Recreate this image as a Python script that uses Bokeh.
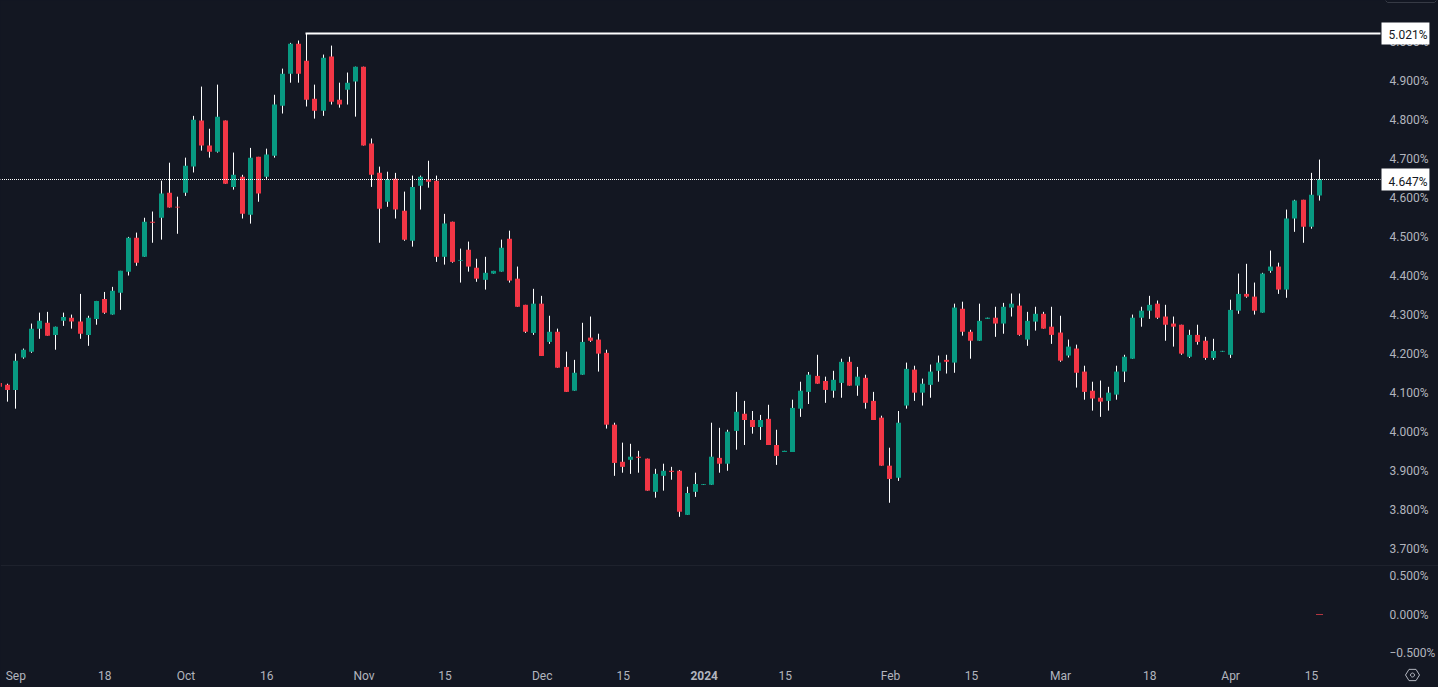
import math
import numpy as np
from bokeh.embed import file_html
from bokeh.layouts import column
from bokeh.models import ColumnDataSource, FixedTicker, Label, PolyAnnotation, PrintfTickFormatter, Range1d
from bokeh.plotting import figure
from bokeh.resources import INLINE

highs = [4.128,4.124,4.201,4.214,4.278,4.306,4.308,4.270,4.306,4.301,
 4.354,4.298,4.336,4.359,4.372,4.413,4.500,4.511,4.549,4.565,
 4.644,4.690,4.603,4.703,4.810,4.885,4.777,4.890,4.798,4.716,
 4.659,4.728,4.705,4.726,4.864,4.931,4.997,5.003,5.021,4.890,
 4.967,4.990,4.895,4.921,4.936,4.936,4.752,4.680,4.667,4.664,
 4.616,4.657,4.657,4.695,4.657,4.559,4.539,4.470,4.488,4.444,
 4.449,4.413,4.493,4.516,4.424,4.326,4.367,4.349,4.298,4.265,
 4.206,4.185,4.280,4.296,4.252,4.211,4.024,3.973,3.970,3.952,
 3.932,3.906,3.919,3.911,3.903,3.860,3.896,3.867,4.024,4.011,
 4.006,4.103,4.080,4.054,4.044,4.070,4.006,3.952,4.083,4.129,
 4.154,4.198,4.142,4.157,4.188,4.193,4.167,4.147,4.103,4.042,
 3.960,4.054,4.178,4.170,4.137,4.173,4.196,4.198,4.329,4.334,
 4.262,4.329,4.293,4.321,4.331,4.355,4.355,4.308,4.321,4.308,
 4.321,4.298,4.237,4.224,4.170,4.129,4.132,4.116,4.170,4.198,
 4.301,4.321,4.349,4.337,4.326,4.296,4.275,4.262,4.275,4.244,
 4.239,4.208,4.339,4.406,4.431,4.383,4.408,4.465,4.434,4.570,
 4.595,4.595,4.664,4.698]
lows = [4.114,4.078,4.060,4.188,4.203,4.239,4.247,4.211,4.272,4.265,
 4.239,4.221,4.275,4.303,4.301,4.313,4.401,4.426,4.449,4.485,
 4.493,4.575,4.508,4.605,4.665,4.721,4.703,4.716,4.636,4.621,
 4.547,4.534,4.590,4.649,4.703,4.816,4.895,4.895,4.834,4.803,
 4.810,4.839,4.831,4.839,4.808,4.734,4.628,4.485,4.577,4.547,
 4.490,4.475,4.570,4.626,4.436,4.429,4.434,4.383,4.411,4.385,
 4.365,4.406,4.411,4.383,4.321,4.254,4.249,4.195,4.226,4.165,
 4.103,4.106,4.147,4.231,4.155,4.009,3.888,3.896,3.893,3.896,
 3.850,3.832,3.850,3.878,3.783,3.788,3.834,3.865,3.865,3.896,
 3.901,3.955,3.967,3.996,3.980,3.967,3.916,3.949,3.949,4.039,
 4.072,4.124,4.075,4.088,4.088,4.119,4.093,4.060,4.031,3.914,
 3.819,3.875,4.060,4.080,4.068,4.088,4.129,4.150,4.152,4.247,
 4.188,4.234,4.290,4.244,4.252,4.296,4.247,4.221,4.260,4.265,
 4.226,4.180,4.191,4.114,4.083,4.055,4.039,4.055,4.083,4.128,
 4.188,4.270,4.290,4.290,4.234,4.219,4.198,4.190,4.224,4.185,
 4.185,4.206,4.190,4.303,4.344,4.301,4.306,4.408,4.354,4.344,
 4.513,4.485,4.521,4.593]
opens = [4.126,4.121,4.108,4.191,4.206,4.265,4.280,4.249,4.285,4.293,
 4.283,4.249,4.290,4.341,4.301,4.357,4.411,4.498,4.449,4.539,
 4.549,4.613,4.577,4.613,4.680,4.798,4.734,4.718,4.798,4.628,
 4.654,4.557,4.705,4.654,4.708,4.836,4.918,4.995,4.951,4.854,
 4.823,4.962,4.851,4.877,4.898,4.936,4.739,4.664,4.590,4.649,
 4.567,4.490,4.631,4.647,4.644,4.449,4.539,4.439,4.467,4.421,
 4.390,4.406,4.411,4.495,4.393,4.326,4.254,4.329,4.231,4.257,
 4.167,4.106,4.147,4.242,4.237,4.203,4.019,3.924,3.929,3.937,
 3.932,3.847,3.888,3.901,3.901,3.788,3.847,3.865,3.865,3.934,
 3.919,4.003,4.047,4.031,4.013,4.034,3.967,3.949,3.949,4.060,
 4.103,4.144,4.131,4.106,4.126,4.180,4.119,4.139,4.080,4.037,
 3.914,3.883,4.068,4.160,4.101,4.121,4.157,4.185,4.178,4.316,
 4.257,4.234,4.290,4.293,4.278,4.319,4.324,4.237,4.283,4.303,
 4.270,4.255,4.196,4.214,4.155,4.106,4.088,4.080,4.096,4.155,
 4.188,4.293,4.311,4.329,4.296,4.278,4.275,4.193,4.249,4.234,
 4.190,4.206,4.198,4.311,4.354,4.347,4.306,4.413,4.424,4.365,
 4.547,4.595,4.526,4.606]
closes = [4.116,4.108,4.183,4.211,4.265,4.285,4.247,4.270,4.295,4.283,
 4.252,4.293,4.336,4.306,4.362,4.413,4.498,4.434,4.539,4.536,
 4.611,4.575,4.575,4.682,4.800,4.734,4.718,4.808,4.636,4.659,
 4.559,4.703,4.611,4.711,4.839,4.918,4.995,4.918,4.851,4.823,
 4.959,4.846,4.839,4.895,4.936,4.734,4.659,4.572,4.647,4.570,
 4.493,4.628,4.654,4.641,4.449,4.534,4.436,4.441,4.424,4.393,
 4.408,4.413,4.472,4.388,4.321,4.257,4.329,4.195,4.257,4.165,
 4.103,4.152,4.231,4.234,4.201,4.019,3.921,3.911,3.937,3.934,
 3.850,3.893,3.901,3.898,3.796,3.844,3.867,3.867,3.937,3.919,
 4.001,4.052,4.031,4.013,4.031,3.967,3.939,3.952,4.062,4.106,
 4.147,4.124,4.108,4.134,4.180,4.119,4.142,4.075,4.031,3.914,
 3.880,4.024,4.162,4.101,4.124,4.155,4.178,4.180,4.319,4.257,
 4.234,4.285,4.293,4.278,4.321,4.329,4.249,4.285,4.303,4.265,
 4.249,4.183,4.219,4.152,4.103,4.086,4.078,4.101,4.155,4.193,
 4.293,4.311,4.326,4.293,4.275,4.270,4.201,4.249,4.231,4.190,
 4.208,4.208,4.313,4.354,4.347,4.311,4.406,4.424,4.365,4.547,
 4.593,4.526,4.608,4.647]

price_ticks = [3.7,3.8,3.9,4.0,4.1,4.2,4.3,4.4,4.5,4.6,4.7,4.8,4.9,5.0]
lower_ticks = [0.5,0.0,-0.5]
lower_tick_labels = ["0.500%","0.000%","\u22120.500%"]
lower_series_index = [163]
lower_series_value = [0.0]
date_tick_index = [2,13,23,33,45,55,67,77,97,110,120,131,142,152,162]
date_tick_labels = ["Sep","18","Oct","16","Nov","15","Dec","15","15","Feb","15","Mar","18","Apr","15"]
year_tick_index = 87
year_tick_label = "2024"

BG = "#131722"; UP = "#089981"; DOWN = "#F23645"; TXT = "#B2B5BE"; FONT = "Roboto"
W, H1, H2 = 1438, 565, 122
PX0, PX_STEP = -0.92, 8.099      # pixel of bar 0, pixels per bar
AXIS_PX = 1380                   # where the price scale starts
X_RANGE = Range1d(-PX0 / PX_STEP, (W - PX0) / PX_STEP)
AXIS_X = (AXIS_PX - PX0) / PX_STEP


def snap(i):
    """bar index -> index on a whole pixel column, so 1px wicks stay sharp"""
    return (math.floor(PX0 + PX_STEP * i) - PX0) / PX_STEP


idx = list(range(len(closes)))
src = ColumnDataSource(dict(
    x=[snap(i) for i in idx], high=highs, low=lows,
    top=[max(o, c) for o, c in zip(opens, closes)],
    bottom=[min(o, c) for o, c in zip(opens, closes)],
    color=[UP if c >= o else DOWN for o, c in zip(opens, closes)],
))


def style_axis(ax):
    ax.axis_line_color = None
    ax.major_tick_line_color = None
    ax.minor_tick_line_color = None
    ax.major_tick_out = 0
    ax.major_tick_in = 0
    ax.minor_tick_out = 0
    ax.minor_tick_in = 0
    ax.major_label_standoff = 9
    ax.major_label_text_color = TXT
    ax.major_label_text_font = FONT
    ax.major_label_text_font_size = "12px"


p = figure(width=W, height=H1, output_backend="svg", toolbar_location=None,
           x_range=X_RANGE, y_range=Range1d(3.65829, 5.10551),
           x_axis_location=None, y_axis_location="right",
           background_fill_color=BG, border_fill_color=BG, outline_line_color=None,
           min_border=0)
p.grid.visible = False
p.segment("x", "low", "x", "high", source=src, line_color="white", line_width=1)
p.vbar(x="x", width=5 / PX_STEP, top="top", bottom="bottom", fill_color="color", line_color=None, source=src)

hi_i = int(np.argmax(highs))
p.segment([snap(hi_i) - 1 / PX_STEP], [highs[hi_i]], [AXIS_X], [highs[hi_i]], line_color="white", line_width=2)
p.segment([X_RANGE.start - 0.5 / PX_STEP], [closes[-1]], [AXIS_X], [closes[-1]],
          line_color="white", line_width=1, line_dash="1 1")

ax = p.yaxis[0]
ax.fixed_location = AXIS_X
ax.ticker = FixedTicker(ticks=price_ticks)
ax.formatter = PrintfTickFormatter(format="%.3f%%")
style_axis(ax)

for val in (highs[hi_i], closes[-1]):
    p.add_layout(Label(x=1381, y=val, x_units="canvas", y_units="data", text=f"{val:.3f}%",
                       text_color=BG, text_font=FONT, text_font_size="12px", text_baseline="middle",
                       background_fill_color="white", padding=(7, 2, 6, 2)))

# lower edge of the small button cut off at the top right of the page
p.add_layout(PolyAnnotation(xs=[1385, 1385, 1387, 1434, 1436, 1436], ys=[-2, 0, 2, 2, 0, -2],
                            xs_units="canvas", ys_units="canvas", fill_alpha=0,
                            line_color="#363A45", line_alpha=1, line_width=1))

q = figure(width=W, height=H2, output_backend="svg", toolbar_location=None,
           x_range=X_RANGE, y_range=Range1d(-0.9518, 0.6389),
           x_axis_location="below", y_axis_location="right",
           background_fill_color=BG, border_fill_color=BG, outline_line_color=None,
           min_border=0)
q.grid.visible = False
q.segment([snap(i) - 3.5 / PX_STEP for i in lower_series_index], lower_series_value,
          [snap(i) + 3.5 / PX_STEP for i in lower_series_index], lower_series_value,
          line_color="#B23640", line_width=1)

ay = q.yaxis[0]
ay.fixed_location = AXIS_X
ay.ticker = FixedTicker(ticks=lower_ticks)
ay.major_label_overrides = dict(zip(lower_ticks, lower_tick_labels))
style_axis(ay)

ax2 = q.xaxis[0]
ax2.fixed_location = -0.5997
ax2.ticker = FixedTicker(ticks=date_tick_index)
ax2.major_label_overrides = dict(zip(date_tick_index, date_tick_labels))
style_axis(ax2)

q.add_layout(Label(x=year_tick_index, y=110, x_units="data", y_units="canvas", text=year_tick_label,
                   text_color=TXT, text_font=FONT, text_font_size="12px", text_font_style="bold",
                   text_align="center", text_baseline="middle"))

# separator across the whole width at the top of the lower pane
q.add_layout(PolyAnnotation(xs=[0, W, W, 0], ys=[-0.5, -0.5, 0.5, 0.5], xs_units="canvas", ys_units="canvas",
                            fill_color="#2A2E39", fill_alpha=1, line_color=None))
# settings icon
cx, cy = 1412, 109.5
ang = np.radians(np.arange(0, 360, 60))
q.add_layout(PolyAnnotation(xs=list(cx + 7 * np.cos(ang)), ys=list(cy + 6.5 * np.sin(ang)),
                            xs_units="canvas", ys_units="canvas", fill_alpha=0,
                            line_color=TXT, line_alpha=1, line_width=1))
ang2 = np.radians(np.arange(0, 360, 30))
q.add_layout(PolyAnnotation(xs=list(cx + 2 * np.cos(ang2)), ys=list(cy + 2 * np.sin(ang2)),
                            xs_units="canvas", ys_units="canvas", fill_alpha=0,
                            line_color=TXT, line_alpha=1, line_width=1))

page = column(p, q, spacing=0)
html = file_html(page, INLINE)
html = html.replace("<head>", f"<head><style>html,body{{background:{BG}}}</style>", 1)
open("out.html", "w").write(html)
